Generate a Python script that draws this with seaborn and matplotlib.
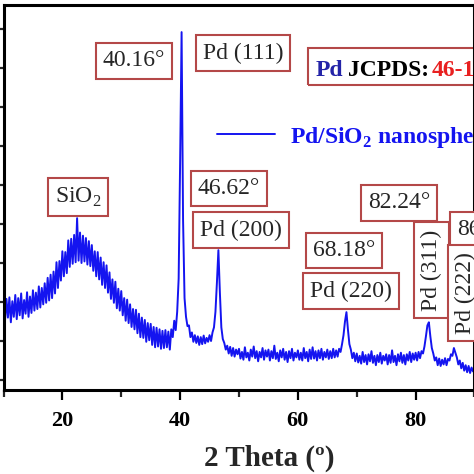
import numpy as np
import matplotlib
matplotlib.use("Agg")
import matplotlib.pyplot as plt
import seaborn as sns
from matplotlib.patches import Rectangle

# 2 theta grid (deg), one reading every 0.25 deg
two_theta = np.arange(10, 90, 0.25)

# intensity (a.u.), 20 readings per row (5 deg)
intensity = [
    1.95, 1.52, 2.08, 1.60, 2.12, 1.48, 2.02, 1.62, 2.18, 1.56, 2.10, 1.66, 2.22, 1.58, 2.05, 1.70, 2.25, 1.62, 2.14, 1.72,
    2.30, 1.78, 2.24, 1.82, 2.40, 1.86, 2.36, 1.94, 2.48, 1.98, 2.62, 2.04, 2.70, 2.10, 2.78, 2.22, 3.02, 2.36, 3.05, 2.55,
    3.30, 2.66, 3.28, 2.74, 3.58, 2.90, 3.62, 2.98, 3.72, 3.02, 4.15, 3.06, 3.78, 3.00, 3.70, 3.04, 3.64, 2.96, 3.56, 2.92,
    3.46, 2.80, 3.30, 2.66, 3.28, 2.58, 3.14, 2.44, 3.02, 2.36, 2.94, 2.24, 2.76, 2.08, 2.58, 1.98, 2.52, 1.84, 2.34, 1.78,
    2.28, 1.66, 2.10, 1.52, 2.06, 1.46, 1.94, 1.36, 1.82, 1.30, 1.80, 1.20, 1.70, 1.10, 1.60, 1.08, 1.54, 0.98, 1.46, 1.02,
    1.44, 0.90, 1.36, 0.84, 1.34, 0.86, 1.30, 0.80, 1.26, 0.82, 1.28, 0.84, 1.24, 0.78, 1.30, 1.10, 1.52, 1.28, 1.75, 2.60,
    5.60, 8.92, 4.10, 2.10, 1.62, 1.38, 1.40, 1.10, 1.22, 0.98, 1.15, 0.95, 1.12, 0.90, 1.10, 0.92, 1.14, 0.94, 1.08, 0.98,
    1.15, 1.00, 1.22, 1.35, 1.75, 2.50, 3.33, 2.25, 1.35, 1.05, 0.95, 0.78, 0.88, 0.68, 0.85, 0.62, 0.82, 0.60, 0.78, 0.66,
    0.80, 0.55, 0.72, 0.52, 0.84, 0.58, 0.70, 0.50, 0.78, 0.60, 0.86, 0.56, 0.74, 0.48, 0.72, 0.58, 0.82, 0.52, 0.76, 0.60,
    0.78, 0.50, 0.74, 0.56, 0.88, 0.54, 0.70, 0.48, 0.76, 0.58, 0.80, 0.52, 0.72, 0.46, 0.74, 0.56, 0.80, 0.50, 0.70, 0.58,
    0.76, 0.52, 0.70, 0.50, 0.82, 0.56, 0.72, 0.48, 0.78, 0.54, 0.84, 0.55, 0.74, 0.50, 0.76, 0.56, 0.80, 0.52, 0.72, 0.58,
    0.78, 0.54, 0.74, 0.56, 0.80, 0.58, 0.76, 0.60, 0.80, 0.72, 0.92, 1.15, 1.50, 1.74, 1.30, 0.92, 0.78, 0.56, 0.70, 0.48,
    0.68, 0.45, 0.62, 0.42, 0.72, 0.46, 0.64, 0.40, 0.66, 0.48, 0.74, 0.44, 0.62, 0.38, 0.64, 0.46, 0.70, 0.42, 0.62, 0.50,
    0.66, 0.40, 0.64, 0.44, 0.76, 0.46, 0.62, 0.38, 0.66, 0.48, 0.70, 0.44, 0.64, 0.40, 0.66, 0.50, 0.72, 0.46, 0.68, 0.52,
    0.70, 0.50, 0.72, 0.56, 0.74, 0.68, 0.86, 1.12, 1.40, 1.48, 1.12, 0.82, 0.68, 0.50, 0.58, 0.38, 0.55, 0.36, 0.52, 0.40,
    0.56, 0.38, 0.54, 0.50, 0.66, 0.62, 0.82, 0.70, 0.58, 0.40, 0.50, 0.30, 0.44, 0.24, 0.38, 0.20, 0.36, 0.18, 0.32, 0.22,
]

# labels in boxes: (text, x, y, rotation)
box_labels = [
    ("40.16°", 32.16, 8.18, 0),
    ("Pd (111)", 50.66, 8.385, 0),
    ("SiO$_2$", 22.65, 4.69, 0),
    ("46.62°", 48.29, 4.90, 0),
    ("Pd (200)", 50.32, 3.846, 0),
    ("68.18°", 67.81, 3.33, 0),
    ("Pd (220)", 69.0, 2.28, 0),
    ("82.24°", 77.15, 4.54, 0),
    ("Pd (311)", 82.75, 2.82, 90),
    ("86.62°", 92.26, 3.86, 0),
    ("Pd (222)", 88.5, 2.24, 90),
]

line_color = "#1414f0"
box_color = "#b44848"

sns.set_style("ticks")
plt.rcParams['font.family'] = ['Liberation Serif', 'DejaVu Serif']
plt.rcParams['mathtext.fontset'] = 'custom'
plt.rcParams['mathtext.rm'] = 'Liberation Serif'
plt.rcParams['mathtext.bf'] = 'Liberation Serif:bold'

fig = plt.figure(figsize=(4.74, 4.74), dpi=100)
ax = fig.add_axes([3.5 / 474, 84 / 474, 471 / 474, 385 / 474])

sns.lineplot(x=two_theta, y=intensity, ax=ax, color=line_color, lw=1.4,
             label=r"Pd/SiO$_\mathbf{2}$ nanospheres")

ax.set_xlim(10, 90)
ax.set_ylim(-0.256, 9.615)
ax.set_xticks([20, 40, 60, 80])
ax.set_xticks([10, 30, 50, 70, 90], minor=True)
ax.set_yticks(range(10))
ax.set_yticklabels([])
for lab in ax.get_xticklabels():
    lab.set_fontweight('bold')
ax.tick_params(axis='x', which='major', length=7, width=1.6, labelsize=16, pad=8, colors='black')
ax.tick_params(axis='x', which='minor', length=5, width=1.6)
ax.tick_params(axis='y', which='major', length=6, width=1.6)
for sp in ax.spines.values():
    sp.set_linewidth(2.2)
    sp.set_color('black')

ax.set_xlabel("2 Theta (º)", fontsize=21, fontweight='bold')
ax.xaxis.set_label_coords(0.5637, -0.1766)
ax.xaxis.label.set_va('center')
ax.set_ylabel("")

for text, x, y, rot in box_labels:
    ax.text(x, y, text, fontsize=17, ha='center', va='center', rotation=rot,
            bbox=dict(boxstyle='square,pad=0.3', fc='white', ec=box_color, lw=1.5))

# JCPDS card box
ax.add_patch(Rectangle((61.70, 7.565), 40, 0.949, fill=False, ec=box_color, lw=1.5, clip_on=False))
t1 = ax.text(63.06, 7.795, "Pd", fontsize=17, fontweight='bold', color='#2424a8', va='baseline')
t2 = ax.annotate("JCPDS:", xy=(1, 0), xycoords=t1, xytext=(3, 0), textcoords='offset points',
                 fontsize=17, fontweight='bold', color='black', va='bottom')
ax.annotate("46-1043", xy=(1, 0), xycoords=t2, xytext=(2, 0), textcoords='offset points',
            fontsize=17, fontweight='bold', color='#e82020', va='bottom')

leg = ax.legend(loc='center left', bbox_to_anchor=(0.4533, 0.657), frameon=False,
                handlelength=2.46, handletextpad=0.64, borderpad=0,
                borderaxespad=0, labelcolor=line_color, prop={'weight': 'bold', 'size': 17})

fig.savefig("out.png", dpi=100)
